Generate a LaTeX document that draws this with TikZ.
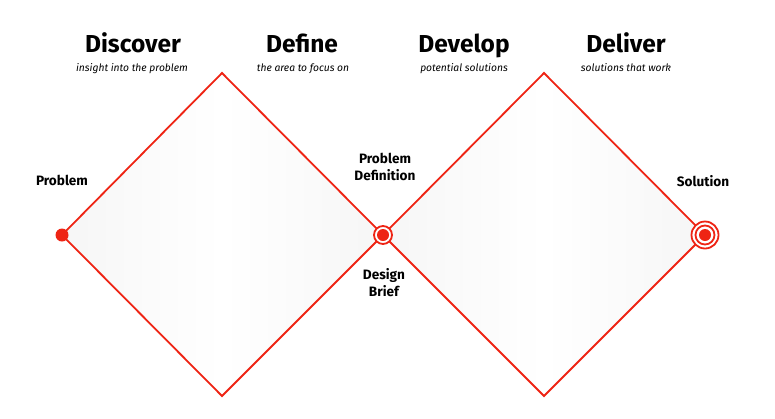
\documentclass[tikz,border=0pt]{standalone}
\usepackage{fontspec}
\setmainfont{Fira Sans}
\usetikzlibrary{positioning}
\definecolor{ddred}{RGB}{238,36,20}

\begin{document}
\begin{tikzpicture}[x=1pt,y={(0pt,-1pt)},
phase/.style={anchor=base,inner sep=0pt,font=\bfseries\fontsize{24.5}{26}\selectfont},
sub/.style={anchor=base,inner sep=0pt,font=\itshape\fontsize{10.3}{12}\selectfont},
milestone/.style={anchor=base,inner sep=0pt,align=center,font=\bfseries\fontsize{13.6}{17}\selectfont},
edge/.style={draw=ddred,line width=1.8pt,line join=miter},
dot/.style={circle,fill=ddred,minimum size=13pt,inner sep=0pt},
ring/.style={circle,draw=ddred,fill=white,line width=1.8pt,inner sep=0pt},
fade/.style={left color=gray!7,right color=gray!7,middle color=white}]
\useasboundingbox (0,0) rectangle (775,418);

% corners of the two diamonds
\coordinate (start) at (62,235);
\coordinate (top1) at (222,73);
\coordinate (mid) at (383,235);
\coordinate (bot1) at (222,396);
\coordinate (top2) at (544,73);
\coordinate (end) at (705,235);
\coordinate (bot2) at (544,396);

\shade[fade] (start) -- (top1) -- (mid) -- (bot1) -- cycle;
\shade[fade] (mid) -- (top2) -- (end) -- (bot2) -- cycle;

\draw[edge] (start) -- (top1) -- (mid) -- (bot1) -- cycle;
\draw[edge] (mid) -- (top2) -- (end) -- (bot2) -- cycle;

% points on the way
\node (problem) [dot] at (start) {};
\node (defring) [ring,minimum size=18pt] at (mid) {};
\node (defdot) [dot,minimum size=12pt] at (mid) {};
\node (solring2) [ring,minimum size=27pt] at (end) {};
\node (solring1) [ring,minimum size=19pt] at (end) {};
\node (soldot) [dot,minimum size=12pt] at (end) {};

\node (problemlbl) [milestone] at (62,185) {Problem};
\node (definitionlbl) [milestone] at (385,180) {Problem\\Definition};
\node (brieflbl) [milestone] at (384,296) {Design\\Brief};
\node (solutionlbl) [milestone] at (703,186) {Solution};

% the four phases
\node (discover) [phase] at (133,52) {Discover};
\node (discoversub) [sub] at (132,71) {insight into the problem};
\node (define) [phase] at (302,52) {Define};
\node (definesub) [sub] at (303,71) {the area to focus on};
\node (develop) [phase] at (464,52) {Develop};
\node (developsub) [sub] at (464,71) {potential solutions};
\node (deliver) [phase] at (626,52) {Deliver};
\node (deliversub) [sub] at (626,71) {solutions that work};
\end{tikzpicture}
\end{document}
